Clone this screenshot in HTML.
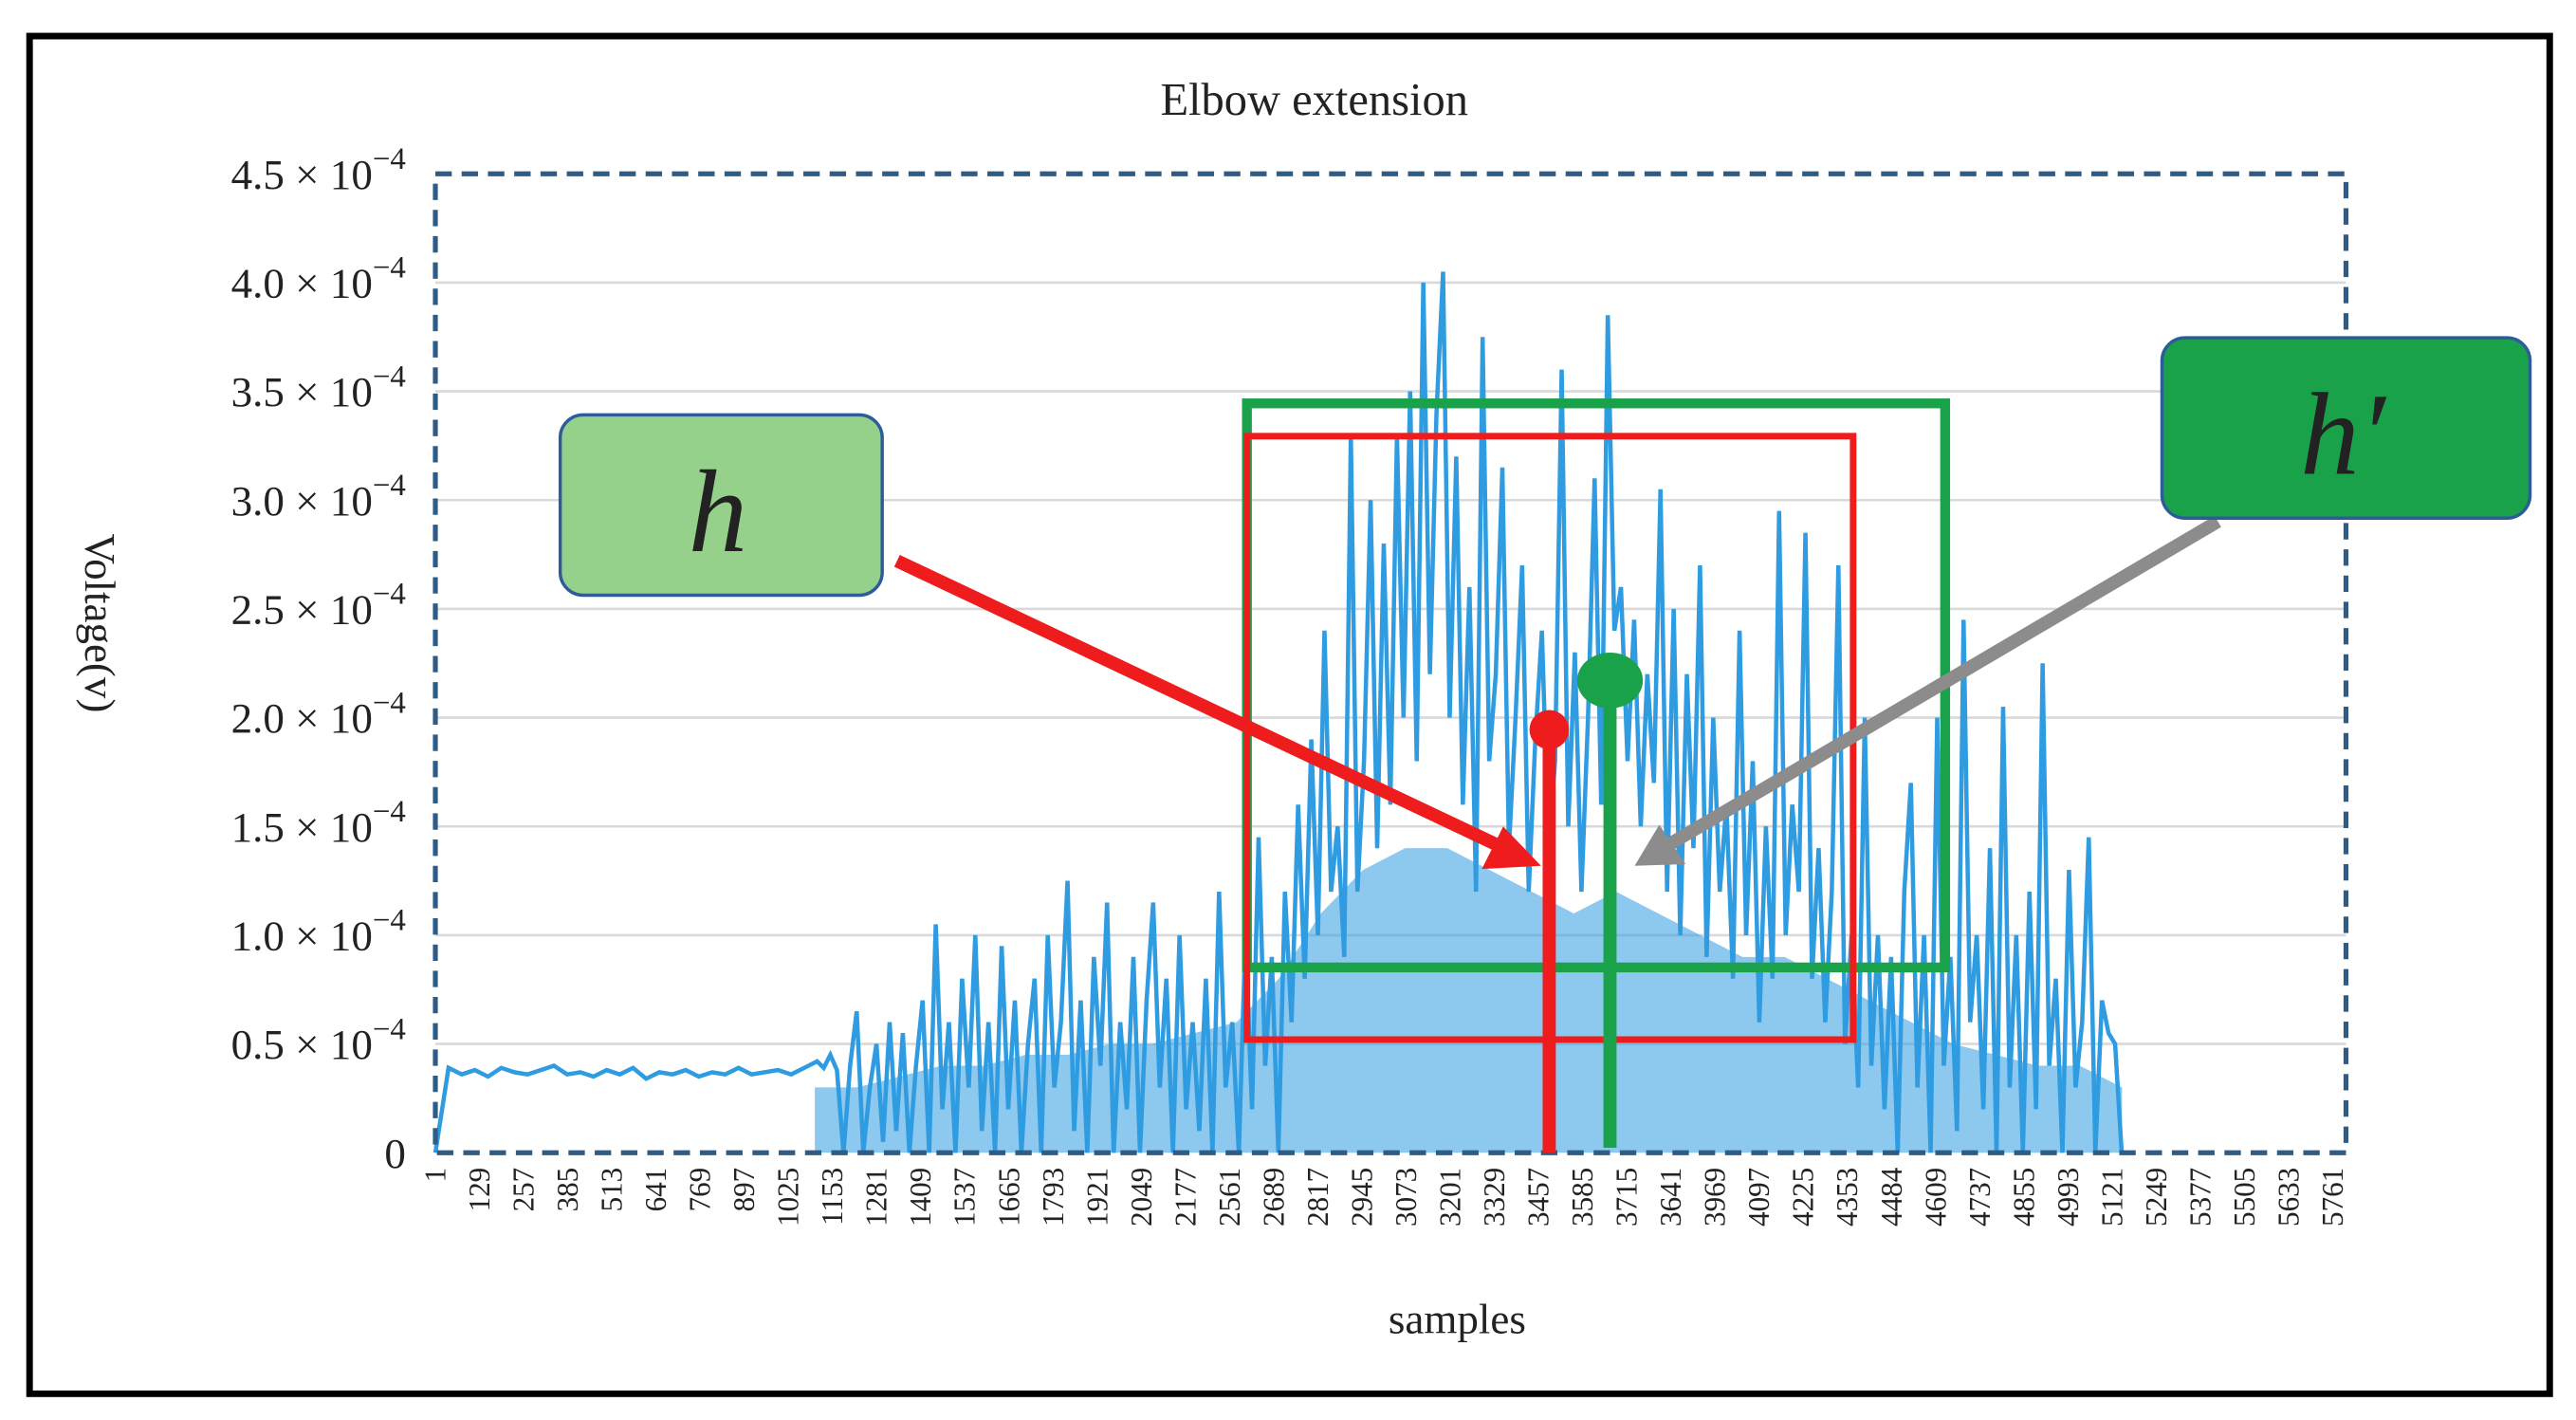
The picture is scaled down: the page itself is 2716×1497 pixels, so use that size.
<!DOCTYPE html>
<html><head><meta charset="utf-8"><style>
html,body{margin:0;padding:0;background:#fff;}
svg{display:block;}
text{font-family:"Liberation Serif",serif;fill:#222;}
</style></head><body>
<svg id="chart" width="2716" height="1497" viewBox="0 0 1568 866" preserveAspectRatio="none" xmlns="http://www.w3.org/2000/svg">
<rect x="18" y="22" width="1534" height="828" fill="#fff" stroke="#000" stroke-width="4"/>
<text x="800" y="70" font-size="28" text-anchor="middle">Elbow extension</text>
<g id="grid"></g>
<g id="yticks"></g>
<g id="xticks"></g>
<polygon id="dense-band" fill="#2f9be0" fill-opacity="0.55"/>
<polyline id="signal" fill="none" stroke="#2f9be0" stroke-width="2.6" stroke-linejoin="miter"/>
<rect x="265" y="106" width="1163" height="597" fill="none" stroke="#2e5c87" stroke-width="3" stroke-dasharray="10 6"/>
<text transform="translate(52,380) rotate(90)" font-size="26" text-anchor="middle">Voltage(v)</text>
<text x="887" y="813" font-size="26" text-anchor="middle">samples</text>
<rect x="759" y="246" width="425" height="344" fill="none" stroke="#1aa24a" stroke-width="6"/>
<rect x="759" y="266" width="369" height="368" fill="none" stroke="#ee1c1c" stroke-width="4"/>
<line x1="943" y1="445" x2="943" y2="703" stroke="#ee1c1c" stroke-width="8"/>
<circle cx="943" cy="445" r="12" fill="#ee1c1c"/>
<line x1="980" y1="415" x2="980" y2="700" stroke="#1aa24a" stroke-width="8"/>
<ellipse cx="980" cy="415" rx="20" ry="17" fill="#1aa24a"/>
<line x1="546" y1="342" x2="915" y2="517" stroke="#ee1c1c" stroke-width="8"/>
<polygon points="938,528 902,530 915,504" fill="#ee1c1c"/>
<line x1="1350" y1="318" x2="1016" y2="515" stroke="#8c8c8c" stroke-width="8"/>
<polygon points="995,528 1010,503 1026,527" fill="#8c8c8c"/>
<rect x="341" y="253" width="196" height="110" rx="14" fill="#95d18a" stroke="#2e5c9a" stroke-width="2"/>
<text x="437" y="336" font-size="72" font-style="italic" text-anchor="middle" fill="#000">h</text>
<rect x="1316" y="206" width="224" height="110" rx="14" fill="#1aa24a" stroke="#2e5c9a" stroke-width="2"/>
<text x="1426" y="289" font-size="72" font-style="italic" text-anchor="middle" fill="#000">h′</text>
</svg>
<script>
const yTickValues=[0,0.5,1.0,1.5,2.0,2.5,3.0,3.5,4.0,4.5];
const xTickLabels=["1","129","257","385","513","641","769","897","1025","1153","1281","1409","1537","1665","1793","1921","2049","2177","2561","2689","2817","2945","3073","3201","3329","3457","3585","3715","3641","3969","4097","4225","4353","4484","4609","4737","4855","4993","5121","5249","5377","5505","5633","5761"];
const flatValues=[0,3.9,3.6,3.8,3.5,3.9,3.7,3.6,3.8,4.0,3.6,3.7,3.5,3.8,3.6,3.9,3.4,3.7,3.6,3.8,3.5,3.7,3.6,3.9,3.6,3.7,3.8,3.6,3.9];
const activeValues=[4.2,3.9,4.5,3.8,0,4.0,6.5,
0,3.0,5.0,0.5,6.0,1.0,5.5,0,4.0,7.0,0,10.5,2.0,
6.0,0,8.0,3.0,10.0,1.0,6.0,0,9.5,2.0,7.0,0,5.0,
8.0,0,10.0,3.0,6.0,12.5,1.0,7.0,0,9.0,4.0,11.5,0,
6.0,2.0,9.0,0,7.0,11.5,3.0,8.0,0,10.0,2.0,6.0,1.0,
8.0,0,12.0,3.0,6.0,0,10.0,2.0,14.5,4.0,9.0,0,12.0,
6.0,16.0,8.0,19.0,10.0,24.0,12.0,15.0,9.0,33.0,12.0,18.0,30.0,
14.0,28.0,16.0,33.0,20.0,35.0,18.0,40.0,22.0,34.0,40.5,20.0,32.0,
16.0,26.0,12.0,37.5,18.0,22.0,31.5,14.0,20.0,27.0,12.0,19.0,24.0,
14.0,18.0,36.0,15.0,23.0,12.0,20.0,31.0,16.0,38.5,24.0,26.0,18.0,
24.5,15.0,22.0,17.0,30.5,12.0,25.0,10.0,22.0,14.0,27.0,9.0,20.0,
12.0,16.0,8.0,24.0,10.0,18.0,6.0,15.0,8.0,29.5,10.0,16.0,12.0,
28.5,8.0,14.0,6.0,12.0,27.0,5.0,10.0,3.0,20.0,4.0,10.0,2.0,
9.0,0,12.0,17.0,3.0,10.0,0,20.0,4.0,9.0,1.0,24.5,6.0,
10.0,2.0,14.0,0,20.5,3.0,10.0,0,12.0,2.0,22.5,4.0,8.0,
0,13.0,3.0,6.0,14.5,0,7.0,5.5,5.0,0];
const denseLevels=[0.3,0.3,0.35,0.4,0.4,0.45,0.45,0.5,0.5,0.55,0.6,0.8,1.1,1.3,1.4,1.4,1.3,1.2,1.1,1.2,1.1,1.0,0.9,0.9,0.8,0.7,0.6,0.5,0.45,0.4,0.4,0.3];
const flatStart=1, flatStep=40, activeStart=1160, activeStep=20, denseStart=1153, denseStep=128;
const NS="http://www.w3.org/2000/svg";
const X0=265,X1=1420,Y0=703,Y1=106;
function xs(s){return X0+(s-1)/5760*(X1-X0);}
function ys(v){return Y0-(v/4.5)*(Y0-Y1);}
const grid=document.getElementById('grid'),yt=document.getElementById('yticks'),xt=document.getElementById('xticks');
yTickValues.forEach((v,i)=>{
 if(v>0&&v<4.5){const l=document.createElementNS(NS,'line');
  
  
  l.setAttribute('x1',X0);l.setAttribute('x2',1428);l.setAttribute('y1',ys(v));l.setAttribute('y2',ys(v));
  l.setAttribute('stroke','#d9d9d9');l.setAttribute('stroke-width','1.5');grid.appendChild(l);}
 const t=document.createElementNS(NS,'text');
 
 
 t.setAttribute('x',247);t.setAttribute('y',ys(v)+9);t.setAttribute('text-anchor','end');t.setAttribute('font-size','26');
 if(v===0){t.textContent='0';}
 else{t.innerHTML=v.toFixed(1)+' × 10<tspan dy="-12" font-size="19">−4</tspan>';}
 yt.appendChild(t);
});
xTickLabels.forEach((lab,i)=>{
 const x=X0+i*(X1-X0)/(xTickLabels.length-1)+6;
 const t=document.createElementNS(NS,'text');
 
 
 t.setAttribute('transform','translate('+x+',712) rotate(-90)');
 t.setAttribute('text-anchor','end');t.setAttribute('font-size','18');
 t.textContent=lab;xt.appendChild(t);
});
const pts=[];
flatValues.forEach((v,i)=>pts.push(xs(flatStart+i*flatStep)+','+ys(v/10)));
activeValues.forEach((v,i)=>pts.push(xs(activeStart+i*activeStep)+','+ys(v/10)));
document.getElementById('signal').setAttribute('points',pts.join(' '));
const bp=[xs(denseStart)+','+Y0];
denseLevels.forEach((v,i)=>bp.push(xs(denseStart+i*denseStep)+','+ys(v)));
bp.push(xs(denseStart+(denseLevels.length-1)*denseStep)+','+Y0);
document.getElementById('dense-band').setAttribute('points',bp.join(' '));
</script>
</body></html>
